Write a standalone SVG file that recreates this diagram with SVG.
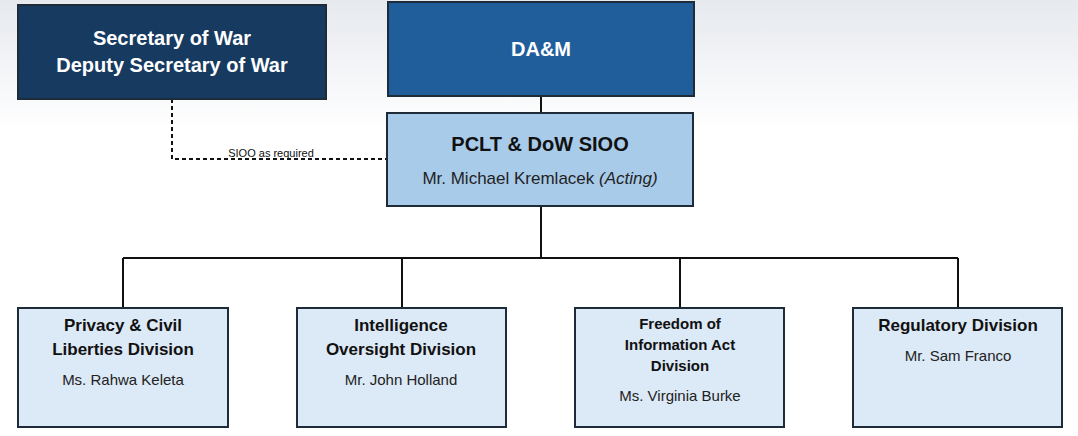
<svg xmlns="http://www.w3.org/2000/svg" width="1078" height="436" viewBox="0 0 1078 436">
<defs>
<linearGradient id="bg" x1="0" y1="0" x2="0" y2="1">
<stop offset="0" stop-color="#e6e9ee"/><stop offset="0.3" stop-color="#ffffff"/><stop offset="1" stop-color="#ffffff"/>
</linearGradient>
<style>
.b{stroke:#1e2b38;stroke-width:2}
.dark{fill:#173a60}.mid{fill:#205e9b}.light{fill:#a9cbea}.pale{fill:#dce9f6}
.tw{font-family:"Liberation Sans",Arial,sans-serif;font-weight:bold;font-size:20px;fill:#fff;text-anchor:middle}
.th{font-family:"Liberation Sans",Arial,sans-serif;font-weight:bold;fill:#111;text-anchor:middle}
.tn{font-family:"Liberation Sans",Arial,sans-serif;fill:#222;text-anchor:middle}
.ln{stroke:#111;stroke-width:2;fill:none}
</style>
</defs>
<rect width="1078" height="436" fill="url(#bg)"/>
<g id="connectors">
<path class="ln" d="M541 96V113M541 206V258M123 258H958M123 258V308M402 258V308M680 258V308M958 258V308"/>
<path class="ln" stroke-dasharray="4,3" stroke-width="1.5" d="M172 99V159H387"/>
<text x="271" y="157" font-family="Liberation Sans,Arial,sans-serif" font-size="11" fill="#111" text-anchor="middle">SIOO as required</text>
</g>
<g id="secwar"><rect class="b dark" x="18" y="5" width="308" height="94"/>
<text class="tw" x="172" y="45">Secretary of War</text><text class="tw" x="172" y="72">Deputy Secretary of War</text></g>
<g id="dam"><rect class="b mid" x="388" y="2" width="306" height="94"/><text class="tw" x="541" y="56">DA&amp;M</text></g>
<g id="pclt"><rect class="b light" x="387" y="113" width="306" height="93"/>
<text class="th" x="540" y="151" font-size="20">PCLT &amp; DoW SIOO</text>
<text class="tn" x="540" y="184" font-size="17">Mr. Michael Kremlacek <tspan font-style="italic">(Acting)</tspan></text></g>
<g id="privacy"><rect class="b pale" x="18" y="308" width="210" height="119"/>
<text class="th" x="123" y="331" font-size="17">Privacy &amp; Civil</text><text class="th" x="123" y="355" font-size="17">Liberties Division</text>
<text class="tn" x="123" y="385" font-size="15">Ms. Rahwa Keleta</text></g>
<g id="intel"><rect class="b pale" x="297" y="308" width="209" height="119"/>
<text class="th" x="401" y="331" font-size="17">Intelligence</text><text class="th" x="401" y="355" font-size="17">Oversight Division</text>
<text class="tn" x="401" y="385" font-size="15">Mr. John Holland</text></g>
<g id="foia"><rect class="b pale" x="575" y="308" width="209" height="119"/>
<text class="th" x="680" y="329" font-size="15">Freedom of</text><text class="th" x="680" y="350" font-size="15">Information Act</text><text class="th" x="680" y="371" font-size="15">Division</text>
<text class="tn" x="680" y="401" font-size="15">Ms. Virginia Burke</text></g>
<g id="reg"><rect class="b pale" x="853" y="308" width="209" height="119"/>
<text class="th" x="958" y="331" font-size="17">Regulatory Division</text>
<text class="tn" x="958" y="361" font-size="15">Mr. Sam Franco</text></g>
</svg>
